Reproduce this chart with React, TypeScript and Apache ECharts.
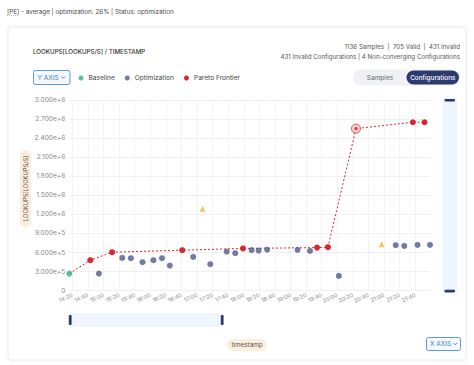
import React, { useEffect, useRef } from "react";
import * as echarts from "echarts";

const baselineTimes = ["14:16"];
const baselineValues = [269000];

const optimizationTimes = [
  "14:54", "15:24", "15:35", "15:50", "16:04", "16:15", "16:25", "16:55", "17:17", "17:38", "17:49",
  "18:10", "18:19", "18:30", "19:09", "19:25", "20:02", "21:15", "21:26", "21:43", "21:59",
];
const optimizationValues = [
  269000, 516000, 511000, 448000, 480000, 511000, 395000, 532000, 417000, 615000, 590000,
  639000, 631000, 645000, 642000, 626000, 233000, 716000, 705000, 720000, 720000,
];

const paretoTimes = ["14:16", "14:43", "15:11", "16:41", "17:59", "19:34", "19:48", "20:24", "21:37", "21:52"];
const paretoValues = [269000, 480000, 606000, 637000, 665000, 678000, 684000, 2550000, 2650000, 2650000];

const nonConvergingTimes = ["17:07", "20:57"];
const nonConvergingValues = [1290000, 731000];

const selectedTime = "20:24";
const selectedValue = 2550000;

const xTickLabels = [
  "14:20", "14:40", "15:00", "15:20", "15:40", "16:00", "16:20", "16:40", "17:00", "17:20", "17:40", "18:00",
  "18:20", "18:40", "19:00", "19:20", "19:40", "20:00", "20:20", "20:40", "21:00", "21:20", "21:40",
];

const yTickMax = 3000000;
const yTickStep = 300000;

const FONT = "Inter, 'Noto Sans', sans-serif";
const NAVY = "#2c3a6e";
const RED = "#d92632";
const BLUE = "#4f5b8c";
const GREEN = "#2db47c";
const ORANGE = "#f3b43a";

function toMin(t: string): number {
  const [h, m] = t.split(":").map(Number);
  return h * 60 + m;
}
function pad(n: number) {
  return n < 10 ? "0" + n : "" + n;
}
function fmtMin(v: number) {
  const r = Math.round(v);
  return pad(Math.floor(r / 60)) + ":" + pad(r % 60);
}

export default function App() {
  const ref = useRef<HTMLDivElement>(null);
  useEffect(() => {
    if (!ref.current) return;
    const chart = echarts.init(ref.current, undefined, { renderer: "svg" });
    const pts = (ts: string[], vs: number[]) => ts.map((t, i) => [toMin(t), vs[i]]);

    const paretoData = paretoTimes.map((t, i) => {
      const item: any = { value: [toMin(t), paretoValues[i]] };
      if (i === 0 || t === selectedTime) item.symbol = "none";
      return item;
    });
    const xMin = toMin(paretoTimes[0]);
    const xMax = toMin(optimizationTimes[optimizationTimes.length - 1]);
    const tickVals = xTickLabels.map(toMin);
    const labelVals = [xMin, ...tickVals, xMax];

    const txt = (x: number, y: number, text: string, extra: any = {}) => ({
      type: "text",
      x,
      y,
      style: {
        text,
        fontFamily: FONT,
        fontSize: 6.3,
        fill: "#444",
        textVerticalAlign: "middle",
        verticalAlign: "middle",
        ...extra,
      },
      z: 10,
    });

    chart.setOption({
      animation: false,
      textStyle: { fontFamily: FONT },
      grid: { left: 69.3, right: 44, top: 100, bottom: 74.3, containLabel: false },
      legend: {
        data: ["Baseline", "Optimization", "Pareto Frontier"],
        left: 78.5,
        top: 74.5,
        icon: "circle",
        itemWidth: 5,
        itemHeight: 5,
        itemGap: 10,
        padding: 0,
        textStyle: { fontSize: 6.6, color: "#444", fontFamily: FONT },
        selectedMode: false,
      },
      xAxis: {
        type: "value",
        min: xMin,
        max: xMax,
        axisLine: { show: false },
        axisTick: { show: false, customValues: tickVals },
        splitLine: { show: true, lineStyle: { color: "#f3f3f3", width: 1 } },
        axisLabel: {
          customValues: labelVals,
          interval: 0,
          hideOverlap: false,
          showMinLabel: false,
          showMaxLabel: false,
          rotate: 24,
          fontSize: 5.6,
          lineHeight: 6,
          color: "#8a8a8a",
          margin: 4,
          formatter: (v: number) => (tickVals.indexOf(Math.round(v)) >= 0 ? fmtMin(v) : ""),
        },
      },
      yAxis: {
        type: "value",
        min: 0,
        max: yTickMax,
        interval: yTickStep,
        axisLine: { show: false },
        axisTick: { show: false },
        splitLine: { lineStyle: { color: "#f0f0f0" } },
        axisLabel: {
          fontSize: 6.6,
          color: "#888",
          margin: 4,
          formatter: (v: number) => (v === 0 ? "0" : v.toExponential(3)),
        },
      },
      series: [
        {
          name: "Pareto Frontier",
          type: "line",
          data: paretoData,
          symbol: "circle",
          symbolSize: 6,
          itemStyle: { color: RED },
          lineStyle: { color: RED, width: 1, type: [2, 2] },
          z: 3,
        },
        {
          name: "Optimization",
          type: "scatter",
          data: pts(optimizationTimes, optimizationValues),
          symbolSize: 6,
          itemStyle: { color: BLUE },
          z: 4,
        },
        {
          name: "Non-converging",
          type: "scatter",
          data: pts(nonConvergingTimes, nonConvergingValues),
          symbol: "triangle",
          symbolSize: 6,
          itemStyle: { color: ORANGE },
          z: 4,
        },
        {
          name: "Baseline",
          type: "scatter",
          data: pts(baselineTimes, baselineValues),
          symbolSize: 6,
          itemStyle: { color: GREEN },
          z: 5,
        },
        {
          name: "Selected",
          type: "scatter",
          data: [[toMin(selectedTime), selectedValue]],
          symbolSize: 9,
          itemStyle: { color: "rgba(250,205,205,1)", borderColor: RED, borderWidth: 1 },
          z: 5,
        },
        {
          name: "SelectedCenter",
          type: "scatter",
          data: [[toMin(selectedTime), selectedValue]],
          symbolSize: 3.5,
          itemStyle: { color: RED },
          z: 6,
        },
      ],
      graphic: [
        {
          type: "rect",
          shape: { x: 8, y: 27, width: 458, height: 333, r: 3 },
          style: { fill: "#fff", stroke: "#ececec", lineWidth: 1, shadowBlur: 3, shadowColor: "rgba(0,0,0,0.06)" },
          z: -10,
        },
        txt(7, 11.5, "[PE] - average | optimization: 26% | Status: optimization", { fill: "#4a4a4a" }),
        {
          type: "line",
          shape: { x1: 7, y1: 15.5, x2: 18.5, y2: 15.5 },
          style: { stroke: "#888", lineWidth: 0.6, lineDash: [1, 1] },
          z: 10,
        },
        txt(33, 51, "LOOKUPS[LOOKUPS/S] / TIMESTAMP", { fontSize: 6.2, fill: "#333", fontWeight: 500 }),
        txt(460, 46, "1136 Samples  |  705 Valid  |  431 Invalid", { fontSize: 6.2, fill: "#555", textAlign: "right", align: "right" }),
        txt(460, 56, "431 Invalid Configurations | 4 Non-converging Configurations", { fontSize: 6.2, fill: "#555", textAlign: "right", align: "right" }),
        // Y AXIS button
        {
          type: "rect",
          shape: { x: 33.5, y: 70.5, width: 36.5, height: 14, r: 2 },
          style: { fill: "#f5f9ff", stroke: "#5b9bd8", lineWidth: 1 },
          z: 10,
        },
        txt(37.5, 77.5, "Y AXIS", { fontSize: 6.5, fill: "#3d82cc" }),
        {
          type: "polyline",
          shape: { points: [[61.5, 76.5], [63.3, 78.3], [65.1, 76.5]] },
          style: { stroke: "#3d82cc", lineWidth: 0.9, fill: "none" },
          z: 10,
        },
        // toggle
        {
          type: "rect",
          shape: { x: 353, y: 69.5, width: 107, height: 16, r: 8 },
          style: { fill: "#eff1f5" },
          z: 10,
        },
        {
          type: "rect",
          shape: { x: 406.5, y: 70.5, width: 52.5, height: 14, r: 7 },
          style: { fill: NAVY },
          z: 11,
        },
        txt(380, 77.5, "Samples", { fontSize: 6.5, fill: "#666", textAlign: "center", align: "center" }),
        { ...txt(432.8, 77.5, "Configurations", { fontSize: 6.4, fill: "#fff", textAlign: "center", align: "center", fontWeight: 500 }), z: 12 },
        // y-axis name pill
        {
          type: "rect",
          shape: { x: 20, y: 150, width: 11, height: 77, r: 5 },
          style: { fill: "#fdeedc" },
          z: 10,
        },
        {
          type: "text",
          x: 25.5,
          y: 188.5,
          rotation: Math.PI / 2,
          style: {
            text: "LOOKUPS[LOOKUPS/S]",
            fontFamily: FONT,
            fontSize: 5.8,
            fill: "#555",
            textAlign: "center",
            align: "center",
            verticalAlign: "middle",
            textVerticalAlign: "middle",
          },
          z: 11,
        },
        // bottom slider
        {
          type: "rect",
          shape: { x: 70, y: 313, width: 152, height: 14 },
          style: { fill: "#eef5fc" },
          z: 10,
        },
        { type: "rect", shape: { x: 68.8, y: 315, width: 2.8, height: 10, r: 1 }, style: { fill: NAVY }, z: 11 },
        { type: "rect", shape: { x: 220.8, y: 315, width: 2.8, height: 10, r: 1 }, style: { fill: NAVY }, z: 11 },
        // right slider
        {
          type: "rect",
          shape: { x: 443, y: 98, width: 14, height: 194 },
          style: { fill: "#eef5fc" },
          z: 10,
        },
        { type: "rect", shape: { x: 444.5, y: 99, width: 10.5, height: 2.6, r: 1 }, style: { fill: NAVY }, z: 11 },
        { type: "rect", shape: { x: 444.5, y: 289.8, width: 10.5, height: 2.6, r: 1 }, style: { fill: NAVY }, z: 11 },
        // x-axis name pill
        {
          type: "rect",
          shape: { x: 227, y: 339, width: 40, height: 12, r: 6 },
          style: { fill: "#fdeedc" },
          z: 10,
        },
        txt(247, 345, "timestamp", { fontSize: 6.3, fill: "#555", textAlign: "center", align: "center" }),
        // X AXIS button
        {
          type: "rect",
          shape: { x: 426.5, y: 337.5, width: 34, height: 13, r: 2 },
          style: { fill: "#f5f9ff", stroke: "#5b9bd8", lineWidth: 1 },
          z: 10,
        },
        txt(430, 344, "X AXIS", { fontSize: 6.5, fill: "#3d82cc" }),
        {
          type: "polyline",
          shape: { points: [[453.5, 343], [455.3, 344.8], [457.1, 343]] },
          style: { stroke: "#3d82cc", lineWidth: 0.9, fill: "none" },
          z: 10,
        },
      ],
    });
    return () => chart.dispose();
  }, []);
  return (
    <div style={{ position: "fixed", left: 0, top: 0, width: 474, height: 365, background: "#fff" }}>
      <div ref={ref} style={{ width: 474, height: 365 }} />
    </div>
  );
}
